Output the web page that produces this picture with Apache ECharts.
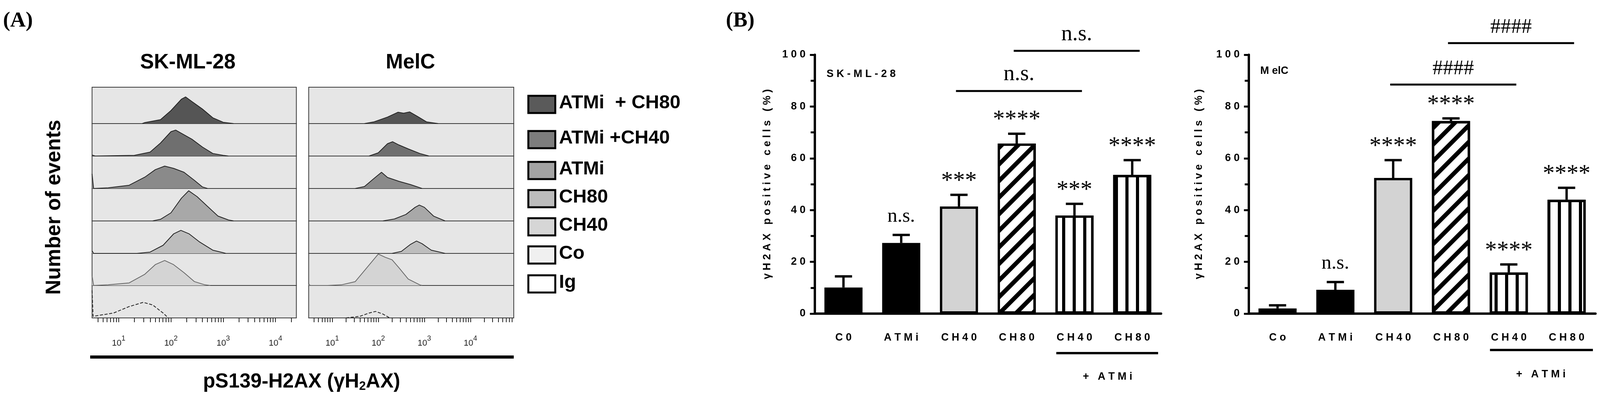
<!DOCTYPE html>
<html><head><meta charset="utf-8">
<script src="https://cdn.jsdelivr.net/npm/echarts@6/dist/echarts.min.js"></script>
<style>html,body{margin:0;padding:0;background:#fff;overflow:hidden}#c{width:100vw;height:1028px}</style>
</head><body><div id="c"></div>
<script>
// ---------- DATA ----------
const histRows = ['ATMi  + CH80','ATMi +CH40','ATMi','CH80','CH40','Co','Ig'];
const histColors = ['#555555','#6f6f6f','#8a8a8a','#a8a8a8','#bdbdbd','#d4d4d4','#ffffff'];
const legendColors = ['#5a5a5a','#7d7d7d','#a3a3a3','#bcbcbc','#d6d6d6','#f0f0f0','#ffffff'];
// histograms: [log10(intensity), relative count]
const skHist = [
 [[1.45,0],[1.5,.03],[1.8,.12],[2.0,.4],[2.2,.75],[2.28,.82],[2.4,.68],[2.6,.45],[2.8,.18],[3.0,.04],[3.2,0]],
 [[0.49,.03],[0.55,0],[1.3,.02],[1.6,.12],[1.8,.4],[2.0,.75],[2.09,.8],[2.2,.7],[2.4,.52],[2.6,.28],[2.8,.08],[3.0,.02],[3.1,0]],
 [[0.49,.45],[0.52,0],[0.8,.02],[1.2,.1],[1.5,.35],[1.7,.58],[1.88,.69],[2.05,.62],[2.25,.5],[2.45,.25],[2.6,.05],[2.7,0]],
 [[1.65,0],[1.8,.05],[2.0,.25],[2.2,.7],[2.34,.93],[2.5,.75],[2.7,.45],[2.9,.15],[3.1,.03],[3.2,0]],
 [[0.49,.08],[0.52,0],[1.35,0],[1.6,.04],[1.85,.25],[2.05,.6],[2.19,.71],[2.35,.6],[2.55,.35],[2.8,.1],[3.0,.02],[3.05,0]],
 [[0.49,.3],[0.52,0],[0.8,.02],[1.2,.08],[1.5,.35],[1.7,.65],[1.88,.78],[2.05,.65],[2.25,.4],[2.45,.12],[2.65,.02],[2.75,0]],
 [[0.49,.85],[0.51,.05],[0.9,.15],[1.2,.35],[1.47,.48],[1.65,.4],[1.85,.15],[1.95,0]]
];
const melHist = [
 [[1.7,0],[1.9,.05],[2.2,.2],[2.43,.35],[2.55,.32],[2.68,.36],[2.85,.22],[3.05,.05],[3.3,0]],
 [[1.8,0],[2.0,.1],[2.2,.38],[2.31,.44],[2.45,.34],[2.65,.22],[2.9,.08],[3.1,0]],
 [[1.5,0],[1.7,.06],[1.9,.3],[2.07,.5],[2.2,.34],[2.45,.22],[2.7,.12],[2.95,0]],
 [[2.1,0],[2.35,.06],[2.6,.2],[2.8,.42],[2.89,.49],[3.0,.42],[3.2,.15],[3.45,0]],
 [[2.3,0],[2.5,.06],[2.7,.28],[2.83,.38],[2.95,.3],[3.15,.1],[3.45,0]],
 [[0.49,.05],[0.52,0],[0.9,0],[1.2,.02],[1.5,.12],[1.75,.55],[2.0,.98],[2.15,.88],[2.3,.8],[2.45,.55],[2.65,.2],[2.9,.02],[2.95,0]],
 [[1.3,0],[1.6,.05],[1.8,.15],[1.94,.2],[2.1,.12],[2.25,0]]
];
const decadeLabels = [1,2,3,4];

const categories = ['Co','ATMi','CH40','CH80','CH40 + ATMi','CH80 + ATMi'];
const skCatLabels = ['C0','ATMi','CH40','CH80','CH40','CH80'];
const melCatLabels = ['Co','ATMi','CH40','CH80','CH40','CH80'];
const skMean = [10.1,27.3,41.4,65.7,37.9,53.6];
const skErr  = [14.4,30.4,45.9,69.5,42.4,59.3];
const skSig  = ['','n.s.','***','****','***','****'];
const melMean = [2.0,9.2,52.4,74.4,15.9,44.0];
const melErr  = [3.2,12.2,59.3,75.4,19.0,48.6];
const melSig  = ['','n.s.','****','****','****','****'];
// brackets: [fromIndex, toIndex, yValue, label]
const skBrackets = [[2,4,86,'n.s.'],[3,5,101.5,'n.s.']];
const melBrackets = [[2,4,88.5,'####'],[3,5,104.5,'####']];

// ---------- BUILD ----------
const W = window.innerWidth || 4276;
const sx = W/4276, X = v=>v*sx, F = v=>Math.round(v*(1+sx)/2);
const chart = echarts.init(document.getElementById('c'));
const bold = 'Liberation Sans';
const narrow = 'Liberation Sans Narrow, Liberation Sans';
const serif = 'Liberation Serif';
const grids=[], xAxes=[], yAxes=[], series=[];
const minorPos=[]; for(let n=0;n<5;n++) for(let k=1;k<10;k++){const v=Math.log10(k*Math.pow(10,n)); if(v>=0.49&&v<=4.94) minorPos.push(v);}
const panels=[{left:246,width:546,max:4.4,data:skHist},{left:825,width:548,max:4.94,data:melHist}];
const rowEdges=[223,316,399,482,565,648,730,813];
panels.forEach((p,pi)=>{
  for(let r=0;r<7;r++){
    const gi=grids.length;
    const h=rowEdges[r+1]-rowEdges[r];
    grids.push({left:X(p.left),width:X(p.width),top:rowEdges[r],height:h,show:true,backgroundColor:'#e6e6e6',borderColor:'#3a3a3a',borderWidth:2});
    const bottom = r===6;
    xAxes.push({gridIndex:gi,type:'value',min:0.49,max:p.max,
      axisLine:{show:false},splitLine:{show:false},
      axisTick:{show:bottom,length:11,lineStyle:{color:'#222',width:2},customValues:minorPos.filter(v=>v<=p.max)},
      axisLabel:{show:bottom,margin:44,customValues:decadeLabels,formatter:v=>'{b|10}{s|'+v+'}',
        rich:{b:{fontFamily:bold,fontSize:22,color:'#222'},s:{fontFamily:bold,fontSize:18,color:'#222',padding:[0,0,24,0]}}}});
    yAxes.push({gridIndex:gi,type:'value',min:0,max:h>90?1.12:1.0,show:false});
    series.push({type:'line',xAxisIndex:gi,yAxisIndex:gi,data:p.data[r],symbol:'none',
      lineStyle:{color: r===5?'#666':'#222',width:2,type:r===6?'dashed':'solid'},
      areaStyle:{color:histColors[r],opacity:r===6?0:1}});
  }
});
// Bar charts
const bars=[{left:2177,right:4276-3103,mean:skMean,err:skErr,sig:skSig,lab:skCatLabels,br:skBrackets},
            {left:3337,right:4276-4264,mean:melMean,err:melErr,sig:melSig,lab:melCatLabels,br:melBrackets}];
const spaced = s=>s.split('').join(' ');
const diag={color:'#000',symbol:'rect',dashArrayX:[1,0],dashArrayY:[11,19],rotation:-Math.PI/4,symbolSize:1};
const vert={color:'#000',symbol:'rect',dashArrayX:[1,0],dashArrayY:[8,19],rotation:Math.PI/2,symbolSize:1};
bars.forEach((b,bi)=>{
  const gi=grids.length;
  grids.push({left:X(b.left),right:X(b.right),top:140,height:662});
  xAxes.push({gridIndex:gi,type:'category',data:categories,
    axisLine:{lineStyle:{color:'#000',width:6}},axisTick:{alignWithLabel:true,length:20,lineStyle:{width:6,color:'#000'}},
    axisLabel:{margin:48,fontFamily:bold,fontWeight:'bold',fontSize:F(28),color:'#000',formatter:(v,i)=>spaced(b.lab[i])}});
  yAxes.push({gridIndex:gi,type:'value',min:0,max:100,interval:20,
    name:spaced('γH2AX positive cells (%)'),nameLocation:'middle',nameGap:X(bi?118:112),
    nameTextStyle:{fontFamily:bold,fontWeight:'bold',fontSize:27,color:'#000'},
    axisLine:{show:true,lineStyle:{color:'#000',width:6}},axisTick:{show:true,length:12,lineStyle:{width:5,color:'#000'}},
    minorTick:{show:true,splitNumber:2,length:10,lineStyle:{width:5,color:'#000'}},
    splitLine:{show:false},
    axisLabel:{margin:X(24),fontFamily:bold,fontWeight:'bold',fontSize:F(28),color:'#000',formatter:v=>spaced(String(v))}});
  const styles=[{color:'#000'},{color:'#000'},{color:'#d3d3d3'},{color:'#fff',decal:diag},{color:'#fff',decal:vert},{color:'#fff',decal:vert}];
  series.push({type:'bar',xAxisIndex:gi,yAxisIndex:gi,barWidth:'66%',
    data:b.mean.map((v,i)=>({value:v,itemStyle:Object.assign({borderColor:'#000',borderWidth:6},styles[i])}))});
  series.push({type:'custom',xAxisIndex:gi,yAxisIndex:gi,z:5,clip:false,
    data:b.mean.map((v,i)=>[i,v,b.err[i]]),
    renderItem:(params,api)=>{
      const i=api.value(0), p0=api.coord([i,api.value(1)]), p1=api.coord([i,api.value(2)]);
      const s=b.sig[i]; const isNs=s==='n.s.';
      return {type:'group',children:[
        {type:'line',shape:{x1:p0[0],y1:p0[1],x2:p1[0],y2:p1[1]},style:{stroke:'#000',lineWidth:6}},
        {type:'line',shape:{x1:p1[0]-X(23),y1:p1[1],x2:p1[0]+X(23),y2:p1[1]},style:{stroke:'#000',lineWidth:6}},
        {type:'text',x:p1[0],y:p1[1]-(isNs?22:4),style:{text:s,fontFamily:serif,fontSize:F(isNs?52:62),fill:'#000',align:'center',verticalAlign:'bottom'}}
      ]};
    }});
  series.push({type:'custom',xAxisIndex:gi,yAxisIndex:gi,z:5,clip:false,
    data:b.br.map(r=>[r[0],r[1],r[2]]),
    renderItem:(params,api)=>{
      const a=api.coord([api.value(0),api.value(2)]), c=api.coord([api.value(1),api.value(2)]);
      const lab=b.br[params.dataIndex][3];
      return {type:'group',children:[
        {type:'line',shape:{x1:a[0]-X(8),y1:a[1],x2:c[0]+X(20),y2:c[1]},style:{stroke:'#000',lineWidth:5}},
        {type:'text',x:(a[0]+c[0])/2+X(6),y:a[1]-14,style:{text:lab,fontFamily:serif,fontSize:F(lab==='n.s.'?58:54),fill:'#000',align:'center',verticalAlign:'bottom'}}
      ]};
    }});
});

const T=(x,y,text,o)=>Object.assign({type:'text',x:X(x),y,style:Object.assign({text,fill:'#000',align:'center',verticalAlign:'middle'},o||{})});
const graphics=[
  T(8,54,'(A)',{fontFamily:serif,fontWeight:'bold',fontSize:F(56),align:'left'}),
  T(1940,54,'(B)',{fontFamily:serif,fontWeight:'bold',fontSize:F(56),align:'left'}),
  T(502,160,'SK-ML-28',{fontFamily:narrow,fontWeight:'bold',fontSize:F(54)}),
  T(1097,160,'MelC',{fontFamily:narrow,fontWeight:'bold',fontSize:F(54)}),
  Object.assign(T(146,0,'Number of events',{fontFamily:bold,fontWeight:'bold',fontSize:F(54)}),{y:530,rotation:Math.PI/2}),
  {type:'rect',shape:{x:X(241),y:909,width:X(1132),height:8},style:{fill:'#000'}},
  {type:'text',x:X(806),y:977,style:{text:'{a|pS139-H2AX (γH}{s|2}{a|AX)}',align:'center',verticalAlign:'middle',
     rich:{a:{fontFamily:narrow,fontWeight:'bold',fontSize:F(52),fill:'#000'},s:{fontFamily:narrow,fontWeight:'bold',fontSize:F(32),fill:'#000',padding:[22,0,0,0]}}}},
  T(2209,190,spaced('SK-ML-28'),{fontFamily:bold,fontWeight:'bold',fontSize:F(28),align:'left'}),
  T(3368,182,'M elC',{fontFamily:bold,fontWeight:'bold',fontSize:F(28),align:'left'}),
  {type:'rect',shape:{x:X(2823),y:900,width:X(272),height:6},style:{fill:'#000'}},
  T(2960,964,spaced('+ ATMi'),{fontFamily:bold,fontWeight:'bold',fontSize:F(28)}),
  {type:'rect',shape:{x:X(3982),y:892,width:X(275),height:6},style:{fill:'#000'}},
  T(4118,958,spaced('+ ATMi'),{fontFamily:bold,fontWeight:'bold',fontSize:F(28)})
];
const legY=[267,357,436,508,580,652,726];
histRows.forEach((n,i)=>{
  graphics.push({type:'rect',shape:{x:X(1412),y:legY[i]-22,width:X(72),height:44},style:{fill:legendColors[i],stroke:'#000',lineWidth:5}});
  graphics.push(T(1494,legY[i]-4,n,{fontFamily:narrow,fontWeight:'bold',fontSize:F(50),align:'left'}));
});

chart.setOption({backgroundColor:'#fff',animation:false,grid:grids,xAxis:xAxes,yAxis:yAxes,series,graphic:graphics});
</script></body></html>
